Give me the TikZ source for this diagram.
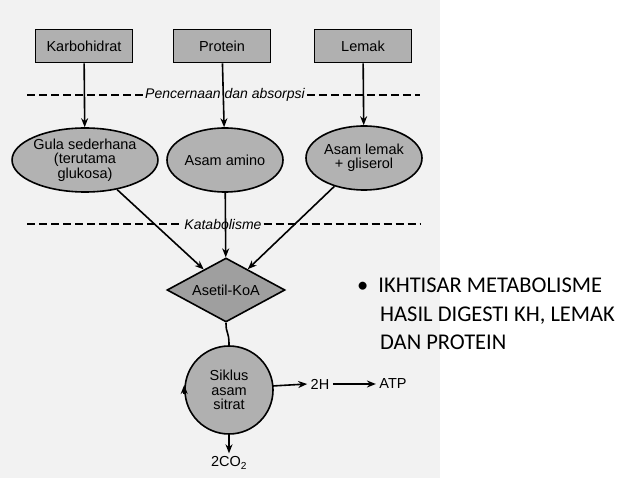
\documentclass[tikz,border=0pt]{standalone}
\usepackage{fontspec}
\setmainfont{Liberation Sans}
\newfontfamily\carlitofont{Carlito}
\usetikzlibrary{shapes.geometric,arrows.meta}
\begin{document}
\begin{tikzpicture}[x=1pt,y=-1pt,
  every node/.style={font=\fontsize{14.5}{14.5}\selectfont},
  box/.style={draw,line width=1.6pt,fill=gray!62,minimum width=97pt,minimum height=33pt},
  ell/.style={draw,line width=1.6pt,ellipse,fill=gray!60,minimum width=116pt,minimum height=64pt,inner sep=0pt,align=center},
  arr/.style={line width=1.6pt,-{Stealth[length=9pt,width=7pt]}},
  dl/.style={line width=1.1pt,dash pattern=on 8pt off 4pt}]
\useasboundingbox (0,0) rectangle (638,478);
\fill[gray!10] (0,0) rectangle (440,478);
\node[box] (kh) at (84,46) {Karbohidrat};
\node[box] (pr) at (222,46) {Protein};
\node[box] (lm) at (363,46) {Lemak};
\node[fill=gray!10,font=\itshape\fontsize{14}{14}\selectfont,inner sep=2pt] (pa) at (225,95) {Pencernaan dan absorpsi};
\draw[dl] (27,95) -- (pa.west); \draw[dl] (pa.east) -- (420,95);
\node[ell] (gs) at (85,160) {Gula sederhana\\(terutama\\glukosa)};
\node[ell] (aa) at (225,160) {Asam amino};
\node[ell] (al) at (364,158) {Asam lemak\\+ gliserol};
\node[fill=gray!10,font=\itshape\fontsize{14}{14}\selectfont,inner sep=2pt] (kt) at (223,224) {Katabolisme};
\draw[dl] (27,224) -- (kt.west); \draw[dl] (kt.east) -- (420,224);
\node[diamond,draw,line width=1.6pt,fill=gray!75,minimum width=118pt,minimum height=64pt,aspect=1.85,inner sep=0pt] (ak) at (226,290) {Asetil-KoA};
\node[circle,draw,line width=1.6pt,fill=gray!62,minimum size=88pt,align=center,inner sep=0pt] (sk) at (229,390) {Siklus\\asam\\sitrat};
\node (h2) at (320,384) {2H};
\node (atp) at (393,384) {ATP};
\node (co) at (229,463) {2CO\textsubscript{2}};
\draw[arr] (kh) -- (gs);
\draw[arr] (pr) -- (aa);
\draw[arr] (lm) -- (al);
\draw[arr] (gs) -- (ak);
\draw[arr] (aa) -- (ak);
\draw[arr] (al) -- (ak);
\draw[line width=1.6pt] (ak.south) .. controls (226,335) and (229,330) .. (sk.north);
\draw[arr] (sk.east) ++(0,-4) coordinate (se) .. controls (272,386) .. (h2.west);
\draw[arr] (h2) -- (atp);
\draw[arr] (sk.south) -- (co);
\draw[arr] (sk.west) ++(0,4) -- ++(0,-9);
\node[font=\carlitofont\fontsize{22.5}{28.5}\selectfont,anchor=north west,align=left,inner sep=0pt] (tx) at (357,278) {\textbullet\hspace{10pt}IKHTISAR METABOLISME\\\hspace{23pt}HASIL DIGESTI KH, LEMAK\\\hspace{23pt}DAN PROTEIN};
\end{tikzpicture}
\end{document}
